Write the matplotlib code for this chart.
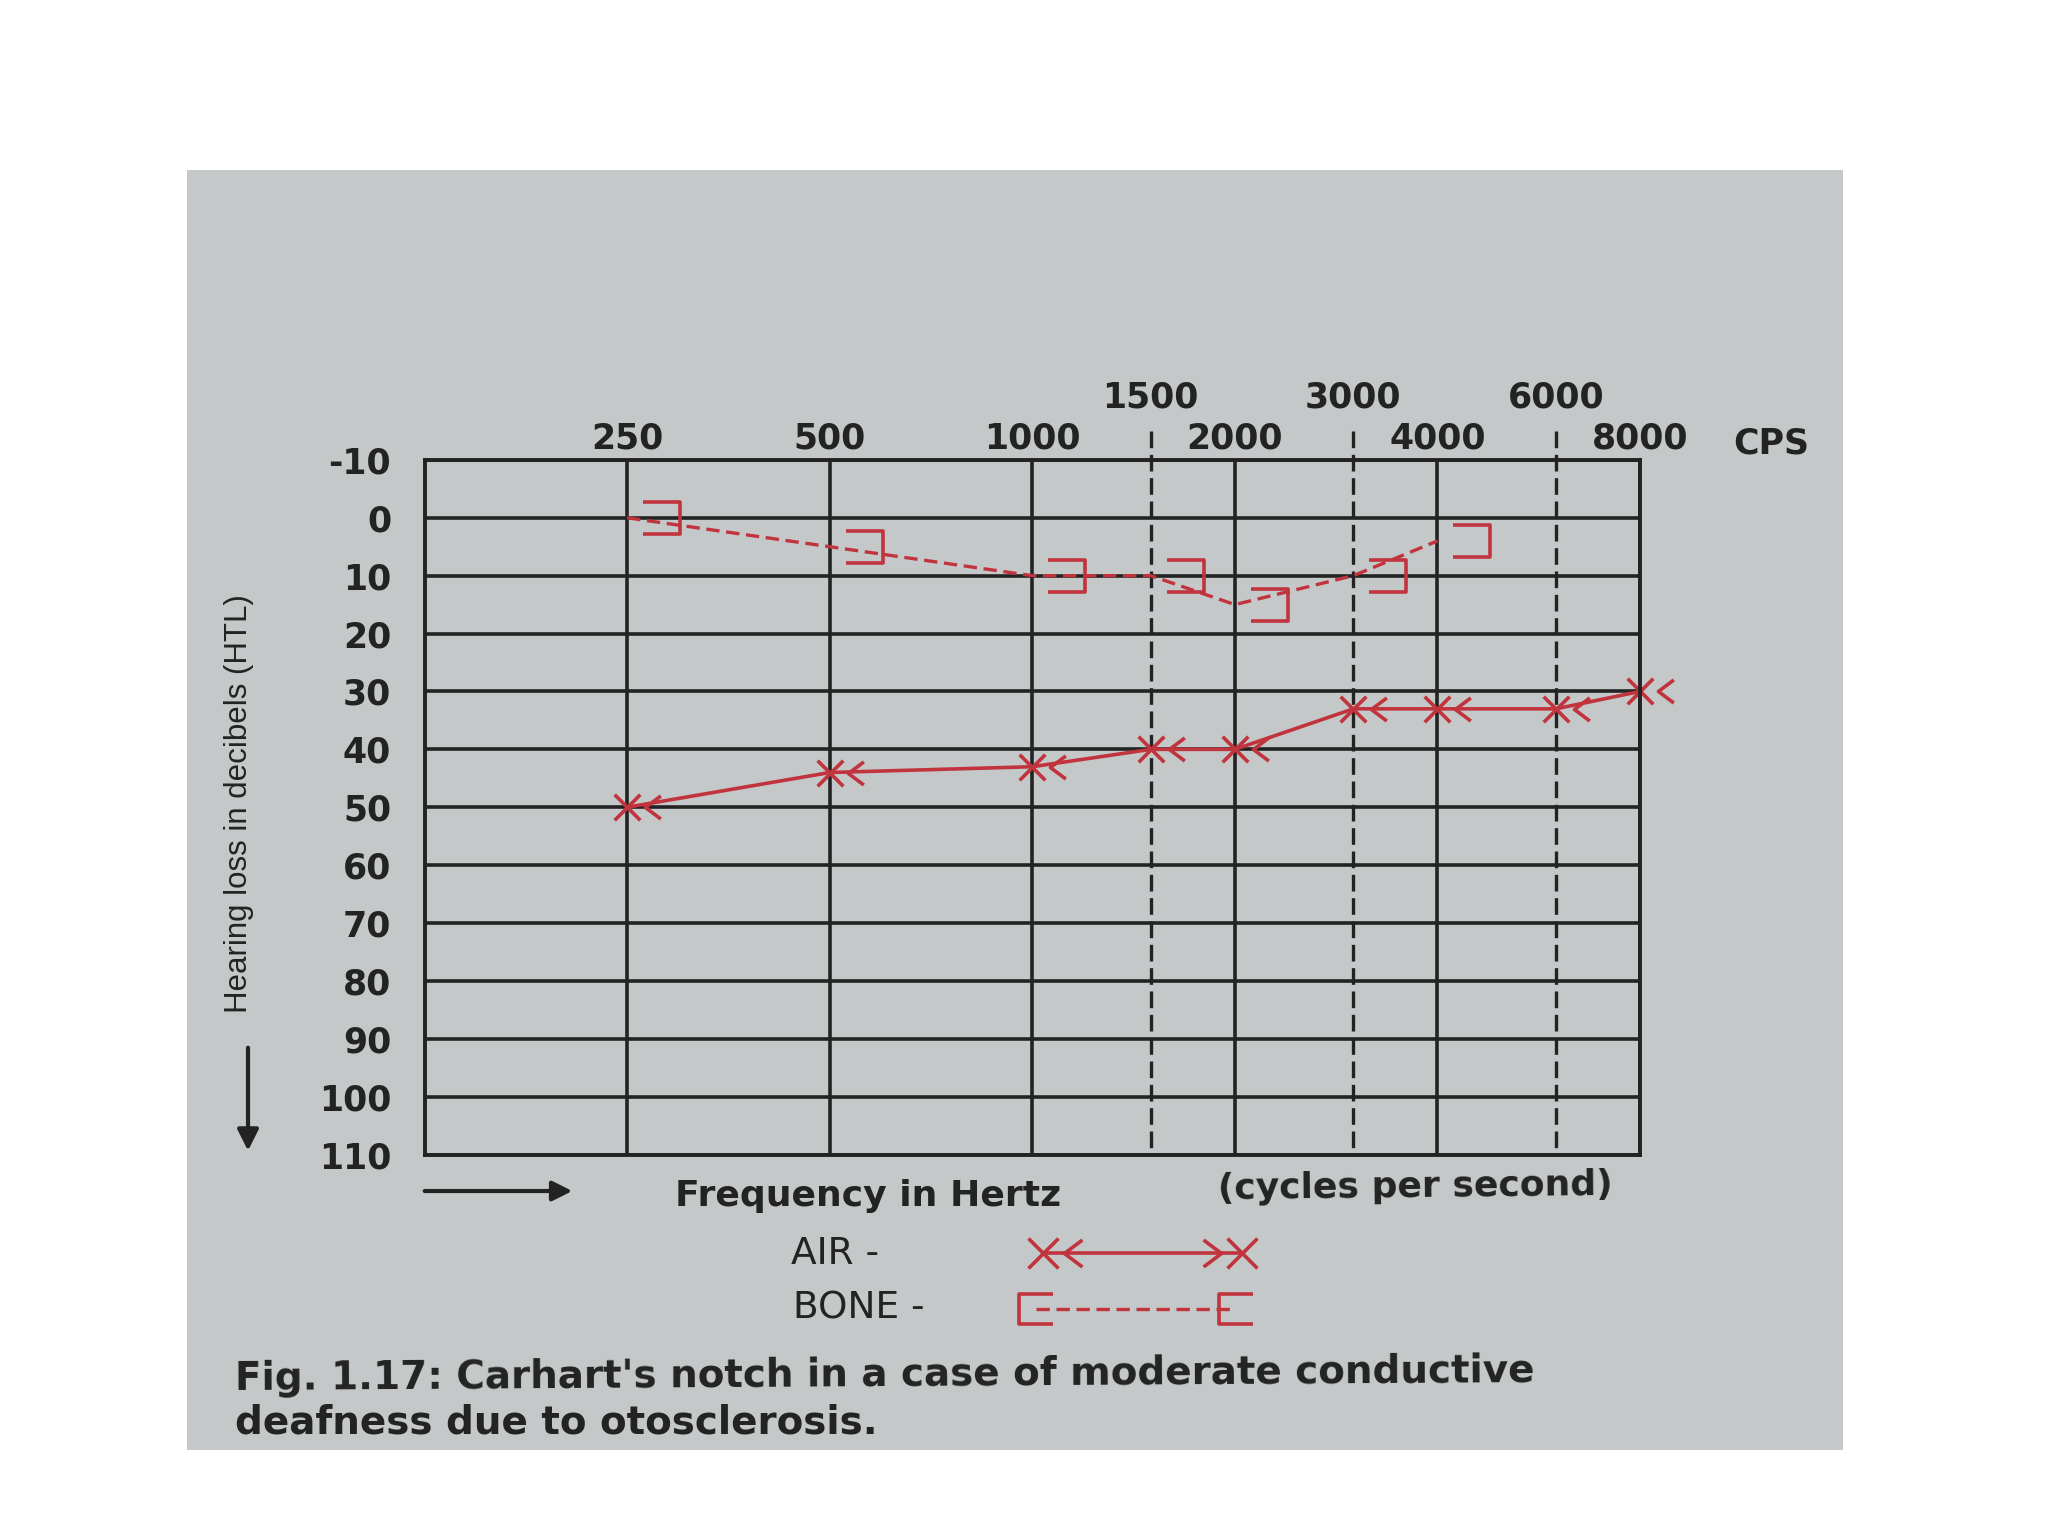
import numpy as np
import matplotlib.pyplot as plt
from matplotlib.path import Path
from matplotlib.patches import Rectangle, FancyArrowPatch
from matplotlib.lines import Line2D
from matplotlib.ticker import NullLocator

# audiogram values (dB hearing loss)
air_freqs = [250, 500, 1000, 1500, 2000, 3000, 4000, 6000, 8000]
air_db = [50, 44, 43, 40, 40, 33, 33, 33, 30]
bone_freqs = [250, 500, 1000, 1500, 2000, 3000, 4000]
bone_db = [0, 5, 10, 10, 15, 10, 4]

octave_freqs = [250, 500, 1000, 2000, 4000, 8000]
octave_labels = ['250', '500', '1000', '2000', '4000', '8000']
half_freqs = [1500, 3000, 6000]
half_labels = ['1500', '3000', '6000']
db_ticks = list(range(-10, 111, 10))
db_labels = [str(v) for v in db_ticks]

red = '#c2343d'
ink = '#232323'
paper = '#c4c8c8'

M, L = Path.MOVETO, Path.LINETO
# X with a "<" arrowhead on its right, like the printed air symbol
air_mark = Path([(-1, -1), (1, 1), (-1, 1), (1, -1), (2.6, 0.9), (1.4, 0), (2.6, -0.9)],
                [M, L, M, L, M, L, L])
air_mark_r = Path([(-x, y) for x, y in air_mark.vertices], air_mark.codes)
# "]" drawn just right of the point
bone_mark = Path([(1.0, 1), (3.4, 1), (3.4, -1), (1.0, -1)], [M, L, L, L])
# "[" for the legend
bracket = Path([(1.1, 1), (-1.1, 1), (-1.1, -1), (1.1, -1)], [M, L, L, L])

fig = plt.figure(figsize=(20.48, 15.36), dpi=100)
fig.patch.set_facecolor('white')
fig.add_artist(Rectangle((0.0913, 0.056), 0.8086, 0.8333, transform=fig.transFigure,
                         facecolor=paper, edgecolor='none', zorder=0))

ax = fig.add_axes([0.2073, 0.2483, 0.5935, 0.4523])
ax.set_facecolor('none')
ax.set_xscale('log', base=2)
ax.set_xlim(125, 8000)
ax.set_ylim(110, -10)

ax.xaxis.tick_top()
ax.set_xticks(octave_freqs)
ax.set_xticklabels(octave_labels)
ax.xaxis.set_minor_locator(NullLocator())
ax.set_yticks(db_ticks)
ax.set_yticklabels(db_labels)
ax.tick_params(axis='both', length=0, labelcolor=ink, labelsize=25)
ax.tick_params(axis='x', pad=3)
ax.tick_params(axis='y', pad=24)
for lab in ax.get_xticklabels() + ax.get_yticklabels():
    lab.set_fontweight('bold')

ax.grid(True, color=ink, lw=2.6)
for s in ax.spines.values():
    s.set_color(ink)
    s.set_linewidth(2.8)

# dashed half-octave lines, reaching up into the label row
ax.vlines(half_freqs, -15, 110, colors=ink, lw=2.4, linestyles=(0, (5, 2)), clip_on=False)
for f, lab in zip(half_freqs, half_labels):
    ax.annotate(lab, xy=(f, -10), xytext=(0, 33), textcoords='offset points',
                ha='center', va='bottom', fontsize=25, fontweight='bold', color=ink,
                annotation_clip=False)
fig.text(0.865, 0.711, 'CPS', ha='center', va='center', fontsize=25,
         fontweight='bold', color=ink)

# bone conduction
ax.plot(bone_freqs, bone_db, color=red, lw=2.4, ls=(0, (4, 2)),
        marker=bone_mark, markersize=76, mew=2.6, mfc='none', mec=red, clip_on=False)
# air conduction
ax.plot(air_freqs, air_db, color=red, lw=2.6,
        marker=air_mark, markersize=48, mew=2.6, mfc='none', mec=red, clip_on=False)

# y label with down arrow
fig.text(0.1167, 0.477, 'Hearing loss in decibels (HTL)', rotation=90, ha='center',
         va='center', fontsize=22.5, color=ink, family='Liberation Sans')
fig.add_artist(FancyArrowPatch((0.1211, 0.3197), (0.1211, 0.249), transform=fig.transFigure,
                               arrowstyle='-|>', mutation_scale=32, lw=3, color=ink))

# x label with right arrow
fig.add_artist(FancyArrowPatch((0.206, 0.2246), (0.2808, 0.2246), transform=fig.transFigure,
                               arrowstyle='-|>', mutation_scale=30, lw=3, color=ink))
fig.text(0.424, 0.2215, 'Frequency in Hertz', ha='center', va='center', fontsize=26,
         color=ink, fontweight='bold')
fig.text(0.691, 0.2275, '(cycles per second)', ha='center', va='center', fontsize=26,
         color=ink, fontweight='bold', rotation=0.6)

# legend
fig.text(0.386, 0.1836, 'AIR -', ha='left', va='center', fontsize=27, color=ink)
fig.text(0.387, 0.1478, 'BONE -', ha='left', va='center', fontsize=27, color=ink)
fig.add_artist(Line2D([0.5093, 0.6064], [0.1842, 0.1842], transform=fig.transFigure,
                      color=red, lw=2.6))
fig.add_artist(Line2D([0.5093], [0.1842], transform=fig.transFigure, ls='none',
                      marker=air_mark, markersize=56, mew=2.6, mec=red, mfc='none'))
fig.add_artist(Line2D([0.6064], [0.1842], transform=fig.transFigure, ls='none',
                      marker=air_mark_r, markersize=56, mew=2.6, mec=red, mfc='none'))
fig.add_artist(Line2D([0.5059, 0.6035], [0.1478, 0.1478], transform=fig.transFigure,
                      color=red, lw=2.4, ls=(0, (4, 2))))
fig.add_artist(Line2D([0.5059, 0.6035], [0.1478, 0.1478], transform=fig.transFigure,
                      ls='none', marker=bracket, markersize=24, mew=2.6, mec=red, mfc='none'))

# caption
fig.text(0.1147, 0.1045, "Fig. 1.17: Carhart's notch in a case of moderate conductive",
         ha='left', va='center', fontsize=28, fontweight='bold', color=ink, rotation=0.35)
fig.text(0.1147, 0.0742, 'deafness due to otosclerosis.', ha='left', va='center',
         fontsize=28, fontweight='bold', color=ink)

fig.savefig('out.png', dpi=100)
